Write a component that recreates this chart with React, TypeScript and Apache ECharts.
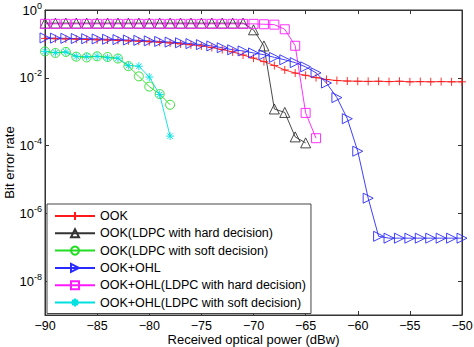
import React, { useEffect, useRef } from "react";
import * as echarts from "echarts";

const seriesNames = [
  "OOK",
  "OOK(LDPC with hard decision)",
  "OOK(LDPC with soft decision)",
  "OOK+OHL",
  "OOK+OHL(LDPC with hard decision)",
  "OOK+OHL(LDPC with soft decision)",
];

const xFull = [-90, -89, -88, -87, -86, -85, -84, -83, -82, -81, -80, -79, -78, -77, -76, -75, -74, -73, -72, -71, -70,
  -69, -68, -67, -66, -65, -64, -63, -62, -61, -60, -59, -58, -57, -56, -55, -54, -53, -52, -51, -50];

const ook = [0.145, 0.142, 0.14, 0.138, 0.135, 0.132, 0.13, 0.127, 0.123, 0.12, 0.116, 0.112, 0.107, 0.1, 0.094, 0.087,
  0.078, 0.068, 0.058, 0.047, 0.038, 0.03, 0.023, 0.017, 0.0138, 0.0118, 0.0101, 0.0089, 0.0083, 0.008, 0.0079,
  0.0078, 0.0079, 0.0077, 0.0079, 0.0076, 0.0077, 0.0076, 0.0077, 0.0076, 0.0076];

const ookHard = [0.41, 0.41, 0.41, 0.41, 0.41, 0.41, 0.41, 0.41, 0.41, 0.41, 0.41, 0.41, 0.41, 0.41, 0.41, 0.41, 0.41,
  0.41, 0.41, 0.41, 0.26, 0.087, 1.2e-3, 9.5e-4, 1.8e-4, 1.2e-4];

const ookSoft = [0.06, 0.054, 0.058, 0.042, 0.04, 0.043, 0.041, 0.037, 0.022, 0.011, 0.0055, 0.0033, 0.0016];

const ookOhl = [0.15, 0.148, 0.146, 0.144, 0.142, 0.14, 0.137, 0.134, 0.13, 0.127, 0.123, 0.118, 0.113, 0.108, 0.102,
  0.095, 0.087, 0.077, 0.067, 0.062, 0.054, 0.048, 0.04, 0.034, 0.028, 0.021, 0.014, 0.007, 0.0026, 6.2e-4, 6.8e-5,
  2.8e-6, 2.1e-7, 1.85e-7, 1.85e-7, 1.85e-7, 1.85e-7, 1.85e-7, 1.85e-7, 1.85e-7, 1.85e-7];

const ohlHard = [0.39, 0.39, 0.39, 0.39, 0.39, 0.39, 0.39, 0.39, 0.39, 0.39, 0.39, 0.39, 0.39, 0.39, 0.39, 0.39, 0.39,
  0.39, 0.39, 0.39, 0.39, 0.38, 0.37, 0.27, 0.088, 9.2e-4, 1.65e-4];

const ohlSoft = [0.06, 0.055, 0.058, 0.043, 0.042, 0.043, 0.039, 0.038, 0.023, 0.022, 0.0105, 0.0032, 1.9e-4];

const xTicks = { min: -90, max: -50, interval: 5 };
const yTickValues = [1, 1e-2, 1e-4, 1e-6, 1e-8];

const FONT = "'Liberation Sans', Arial, sans-serif";
const AXIS_COLOR = "#333";

const PLUS = "path://M5 0V10M0 5H10";
const STAR = "path://M5 0V10M0 5H10M1.6 1.6L8.4 8.4M8.4 1.6L1.6 8.4";

function pairs(values: number[]) {
  return values.map((v, i) => [xFull[i], v]);
}

export default function App() {
  const ref = useRef<HTMLDivElement>(null);
  useEffect(() => {
    document.body.style.margin = "0";
    if (!ref.current) return;
    const chart = echarts.init(ref.current, null, { renderer: "svg" });
    const mk = (name: string, data: number[], color: string, symbol: string, size: number, rotate = 0) => ({
      name,
      type: "line",
      data: pairs(data),
      symbol,
      symbolSize: size,
      symbolRotate: rotate,
      showAllSymbol: true,
      lineStyle: { color, width: 0.9 },
      itemStyle: { color: "none", borderColor: color, borderWidth: 0.9 },
      emphasis: { disabled: true },
    });
    const expLabel = (v: number) => {
      const e = Math.round(Math.log10(v));
      return "{b|10}{e|" + (e < 0 ? "-" + Math.abs(e) : String(e)) + "}";
    };
    chart.setOption({
      animation: false,
      backgroundColor: "#fff",
      textStyle: { fontFamily: FONT },
      grid: {
        left: 45, right: 12, top: 10, bottom: 32,
        outerBoundsMode: "none",
        containLabel: false,
        show: true, borderColor: AXIS_COLOR, borderWidth: 1,
      },
      legend: {
        orient: "vertical",
        left: 47,
        top: 204,
        padding: [5, 5, 4, 7],
        itemWidth: 40,
        itemHeight: 10,
        itemGap: 3.3,
        borderColor: "#444",
        borderWidth: 1,
        backgroundColor: "#fff",
        textStyle: { fontSize: 12.5, lineHeight: 14, fontFamily: FONT, color: "#000" },
        data: seriesNames,
      },
      xAxis: [
        {
          type: "value",
          ...xTicks,
          name: "Received optical power (dBw)",
          nameLocation: "middle",
          nameGap: 18,
          nameMoveOverlap: false,
          nameTextStyle: { fontSize: 13, fontFamily: FONT, color: "#000" },
          axisLine: { show: true, lineStyle: { color: AXIS_COLOR } },
          axisTick: { show: true, inside: true, length: 4, lineStyle: { color: AXIS_COLOR } },
          axisLabel: {
            fontSize: 12.5,
            margin: 4,
            color: "#000",
            fontFamily: FONT,
            formatter: (v: number) => (v < 0 ? "\u2212" + Math.abs(v) : String(v)),
          },
          splitLine: { show: false },
        },
        {
          type: "value",
          ...xTicks,
          position: "top",
          axisLine: { show: true, lineStyle: { color: AXIS_COLOR } },
          axisTick: { show: true, inside: true, length: 4, lineStyle: { color: AXIS_COLOR } },
          axisLabel: { show: false },
          splitLine: { show: false },
        },
      ],
      yAxis: [
        {
          type: "log",
          logBase: 10,
          min: 1e-9,
          max: 1,
          name: "Bit error rate",
          nameLocation: "middle",
          nameGap: 29,
          nameMoveOverlap: false,
          nameTextStyle: { fontSize: 13, fontFamily: FONT, color: "#000" },
          axisLine: { show: true, lineStyle: { color: AXIS_COLOR } },
          axisTick: { show: true, inside: true, length: 4, customValues: yTickValues, lineStyle: { color: AXIS_COLOR } },
          minorTick: { show: false },
          axisLabel: {
            customValues: yTickValues,
            margin: 3,
            color: "#000",
            formatter: expLabel,
            rich: {
              b: { fontSize: 13, fontFamily: FONT, color: "#000", lineHeight: 18 },
              e: { fontSize: 9, fontFamily: FONT, color: "#000", lineHeight: 10, verticalAlign: "top" },
            },
          },
          splitLine: { show: false },
        },
        {
          type: "log",
          logBase: 10,
          min: 1e-9,
          max: 1,
          position: "right",
          axisLine: { show: true, lineStyle: { color: AXIS_COLOR } },
          axisTick: { show: true, inside: true, length: 4, customValues: yTickValues, lineStyle: { color: AXIS_COLOR } },
          axisLabel: { show: false },
          splitLine: { show: false },
        },
      ],
      series: [
        mk(seriesNames[0], ook, "#ff1a1a", PLUS, 8),
        mk(seriesNames[1], ookHard, "#333333", "triangle", 10),
        mk(seriesNames[2], ookSoft, "#22dd22", "circle", 9),
        mk(seriesNames[3], ookOhl, "#2a2aff", "triangle", 10, -90),
        mk(seriesNames[4], ohlHard, "#ff1aff", "rect", 9),
        mk(seriesNames[5], ohlSoft, "#00e0e0", STAR, 8),
      ],
    });
    return () => chart.dispose();
  }, []);
  return <div ref={ref} style={{ width: 474, height: 347 }} />;
}
